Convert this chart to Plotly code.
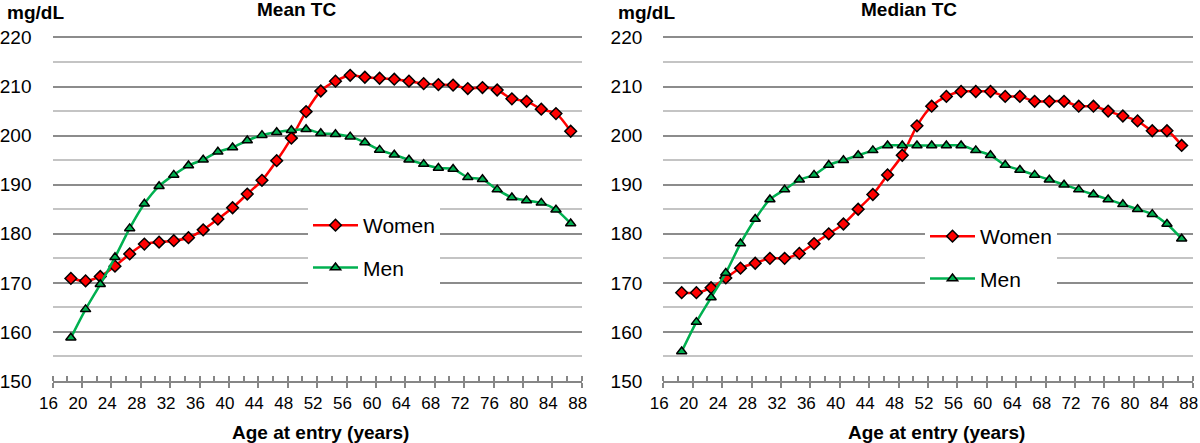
import plotly.graph_objects as go

# Age at entry (x values, midpoints of 2-year groups)
ages = [18.5 + 2 * i for i in range(35)]

mean_women = [170.9, 170.4, 171.3, 173.4, 175.9, 177.9, 178.3, 178.6, 179.2, 180.8,
              183.0, 185.3, 188.1, 190.9, 194.9, 199.5, 204.9, 209.1, 211.1, 212.3,
              211.9, 211.7, 211.5, 211.1, 210.6, 210.4, 210.3, 209.6, 209.8, 209.3,
              207.5, 207.0, 205.4, 204.5, 200.9]
mean_men = [158.8, 164.6, 169.7, 175.2, 181.1, 186.1, 189.7, 192.0, 193.9, 195.1,
            196.7, 197.6, 199.0, 200.1, 200.7, 201.1, 201.3, 200.5, 200.3, 199.8,
            198.6, 197.1, 196.1, 195.1, 194.2, 193.4, 193.2, 191.5, 191.1, 189.0,
            187.4, 186.8, 186.3, 184.9, 182.1]
median_women = [168, 168, 169, 171, 173, 174, 175, 175, 176, 178,
                180, 182, 185, 188, 192, 196, 202, 206, 208, 209,
                209, 209, 208, 208, 207, 207, 207, 206, 206, 205,
                204, 203, 201, 201, 198]
median_men = [156, 162, 167, 172, 178, 183, 187, 189, 191, 192,
              194, 195, 196, 197, 198, 198, 198, 198, 198, 198,
              197, 196, 194, 193, 192, 191, 190, 189, 188, 187,
              186, 185, 184, 182, 179]

panel_titles = ["Mean TC", "Median TC"]
y_unit = "mg/dL"
x_title = "Age at entry (years)"
series_names = ["Women", "Men"]

RED = "#ff0000"
GREEN = "#00b050"
FONT = "Liberation Sans, Arial, sans-serif"
W, H = 1200, 443

fig = go.Figure()

panels = [(mean_women, mean_men, "x", "y", "legend"),
          (median_women, median_men, "x2", "y2", "legend2")]
for women, men, xa, ya, leg in panels:
    fig.add_trace(go.Scatter(
        x=ages, y=women, name=series_names[0], mode="lines+markers",
        line=dict(color=RED, width=2.5, shape="spline", smoothing=0.8),
        marker=dict(symbol="diamond", size=9, color=RED,
                    line=dict(color="black", width=1.5)),
        xaxis=xa, yaxis=ya, legend=leg, legendgroup="w" + xa))
    fig.add_trace(go.Scatter(
        x=ages, y=men, name=series_names[1], mode="lines+markers",
        line=dict(color=GREEN, width=2.5, shape="spline", smoothing=0.8),
        marker=dict(symbol="triangle-up", size=9, color=GREEN,
                    line=dict(color="black", width=1.5)),
        xaxis=xa, yaxis=ya, legend=leg, legendgroup="m" + xa))

PX_PER_UNIT = 343.5 / 70.0
YMAX = 220.3
ybot = 1 - 381.0 / H
ytop = 1 - (37.5 - (YMAX - 220) * PX_PER_UNIT) / H
xdoms = [(52.5 / W, 581.7 / W), (663.3 / W, 1192.7 / W)]

common_x = dict(range=[16, 88], tick0=16, dtick=4, showgrid=False, zeroline=False,
                showline=True, linecolor="#868686", linewidth=1.5,
                ticks="outside", ticklen=5, tickwidth=1.5, tickcolor="#868686",
                minor=dict(ticks="inside", ticklen=5, tickwidth=1.5, tickcolor="#868686",
                           dtick=2, tick0=16, showgrid=False),
                tickfont=dict(family=FONT, size=17, color="black"),
                ticklabelstandoff=1, ticklabelshift=-4, ticklabeloverflow="allow",
                fixedrange=True, automargin=False)
common_y = dict(range=[150, YMAX], tick0=150, dtick=10, showgrid=True,
                gridcolor="#8c8c8c", gridwidth=1.8, zeroline=False, showline=False,
                ticks="", tickfont=dict(family=FONT, size=19, color="black"),
                ticklabelstandoff=20, ticklabeloverflow="allow",
                minor=dict(dtick=5, tick0=150, showgrid=True, gridcolor="#c4c4c4",
                           gridwidth=1.8),
                fixedrange=True, automargin=False)
overlay_x = dict(range=[16, 88], tick0=16, dtick=4,
                 ticks="inside", ticklen=5, tickwidth=1.5, tickcolor="#868686",
                 showticklabels=False, showgrid=False, zeroline=False, showline=False,
                 side="bottom", fixedrange=True, automargin=False)

fig.update_layout(
    width=W, height=H, margin=dict(l=0, r=0, t=0, b=0, autoexpand=False),
    paper_bgcolor="white", plot_bgcolor="white",
    xaxis=dict(domain=list(xdoms[0]), anchor="y", **common_x),
    yaxis=dict(domain=[ybot, ytop], anchor="x", **common_y),
    xaxis2=dict(domain=list(xdoms[1]), anchor="y2", **common_x),
    yaxis2=dict(domain=[ybot, ytop], anchor="x2", **common_y),
    # overlay axes so the major ticks cross the axis line
    xaxis3=dict(overlaying="x", anchor="y", **overlay_x),
    xaxis4=dict(overlaying="x2", anchor="y2", **overlay_x),
    legend=dict(x=308 / W, y=1 - 205 / H, xanchor="left", yanchor="top",
                bgcolor="white", borderwidth=0, tracegroupgap=12,
                font=dict(family=FONT, size=21, color="black"), itemwidth=45,
                traceorder="grouped"),
    legend2=dict(x=925 / W, y=1 - 216 / H, xanchor="left", yanchor="top",
                 bgcolor="white", borderwidth=0, tracegroupgap=12,
                 font=dict(family=FONT, size=21, color="black"), itemwidth=45,
                 traceorder="grouped"),
    showlegend=True,
)

# invisible helper traces so the overlay axes render
for xa, ya in (("x3", "y"), ("x4", "y2")):
    fig.add_trace(go.Scatter(x=[16], y=[150], mode="markers", marker=dict(opacity=0),
                             xaxis=xa, yaxis=ya, showlegend=False, hoverinfo="skip"))

ann = []
bold = dict(family=FONT, size=19, color="black")
for i, (tcx, unit_x, xt_cx) in enumerate([(296.5, 5, 320), (909, 616, 936)]):
    ann.append(dict(text="<b>%s</b>" % panel_titles[i], x=tcx / W, y=1 - 9 / H,
                    xref="paper", yref="paper", xanchor="center", yanchor="middle",
                    showarrow=False, font=bold))
    ann.append(dict(text="<b>%s</b>" % y_unit, x=unit_x / W, y=1 - 12 / H,
                    xref="paper", yref="paper", xanchor="left", yanchor="middle",
                    showarrow=False, font=bold))
    ann.append(dict(text="<b>%s</b>" % x_title, x=xt_cx / W, y=1 - 432 / H,
                    xref="paper", yref="paper", xanchor="center", yanchor="middle",
                    showarrow=False, font=bold))
fig.update_layout(annotations=ann)

fig.write_html("out.html", config={"displayModeBar": False},
               post_script="document.body.style.margin='0';"
                           "document.body.style.overflow='hidden';")
